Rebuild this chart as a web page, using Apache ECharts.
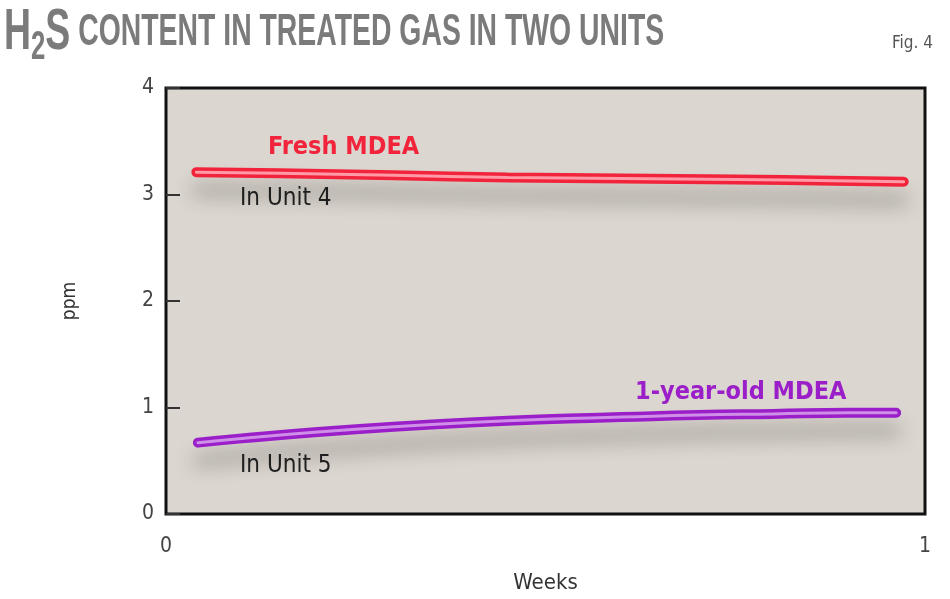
<!DOCTYPE html>
<html>
<head>
<meta charset="utf-8">
<script src="https://cdn.jsdelivr.net/npm/echarts@6/dist/echarts.min.js"></script>
<style>
  html, body { margin: 0; padding: 0; background: #fff; }
  #chart { width: 950px; height: 599px; }
</style>
</head>
<body>
<div id="chart"></div>
<script>
// data (x in weeks, y in ppm)
const freshWeeks = [0.04, 0.15, 0.3, 0.45, 0.6, 0.75, 0.88, 0.972];
const freshPpm = [3.21, 3.2, 3.18, 3.16, 3.15, 3.14, 3.13, 3.12];
const oldWeeks = [0.042, 0.1, 0.2, 0.3, 0.4, 0.5, 0.6, 0.7, 0.8, 0.9, 0.962];
const oldPpm = [0.67, 0.71, 0.77, 0.82, 0.86, 0.89, 0.91, 0.93, 0.94, 0.95, 0.95];

const zip = (xs, ys) => xs.map((x, i) => [x, ys[i]]);

const narrow = '"DejaVu Sans Condensed", "Liberation Sans Narrow", sans-serif';

// thick coloured tube with a lighter core and a soft shadow underneath
const tube = (data, color, core) => [
  {
    type: 'line', data, smooth: true, showSymbol: false, silent: true,
    lineStyle: {
      color, width: 10, cap: 'round',
      shadowColor: 'rgba(0,0,0,0.3)', shadowBlur: 20, shadowOffsetY: 18,
    },
  },
  {
    type: 'line', data, smooth: true, showSymbol: false, silent: true,
    lineStyle: { color: core, width: 3, cap: 'round' },
  },
];

const chart = echarts.init(document.getElementById('chart'), null, { renderer: 'canvas' });

chart.setOption({
  animation: false,
  grid: {
    left: 166, right: 25, top: 88, bottom: 80,
    show: true, backgroundColor: '#dbd6cf', borderColor: '#111', borderWidth: 3,
  },
  xAxis: {
    type: 'value', min: 0, max: 1, interval: 1,
    name: 'Weeks', nameLocation: 'middle', nameGap: 58,
    nameTextStyle: { fontFamily: narrow, fontSize: 22, color: '#333' },
    axisLine: { show: false }, axisTick: { show: false }, splitLine: { show: false },
    axisLabel: { margin: 22, fontFamily: narrow, fontSize: 21, color: '#444' },
  },
  yAxis: {
    type: 'value', min: 0, max: 4, interval: 1,
    name: 'ppm', nameLocation: 'middle', nameGap: 86, nameRotate: 90,
    nameTextStyle: { fontFamily: narrow, fontSize: 19, color: '#333' },
    axisLine: { show: false },
    axisTick: { show: true, inside: true, length: 14, lineStyle: { color: '#333', width: 2 } },
    splitLine: { show: false },
    axisLabel: { margin: 12, fontFamily: narrow, fontSize: 21, color: '#444' },
  },
  series: [
    ...tube(zip(freshWeeks, freshPpm), '#f2243c', '#ff9aa6'),
    ...tube(zip(oldWeeks, oldPpm), '#9a1fc9', '#cf8ee8'),
  ],
  graphic: [
    {
      type: 'text', left: 4, top: 4, scaleX: 0.645,
      style: {
        text: '{big|H}{sub|2}{big|S}{rest| CONTENT IN TREATED GAS IN TWO UNITS}',
        fill: '#7b7b7b', fontFamily: narrow,
        rich: {
          big: { fontSize: 58, fontWeight: 'bold', fill: '#7b7b7b' },
          sub: { fontSize: 40, fontWeight: 'bold', fill: '#7b7b7b', padding: [0, 0, -30, 0] },
          rest: { fontSize: 44, fontWeight: 'bold', fill: '#7b7b7b' },
        },
      },
    },
    { type: 'text', left: 892, top: 35, style: { text: 'Fig. 4', fontFamily: narrow, fontSize: 17, fill: '#555' } },
    { type: 'text', left: 268, top: 135, style: { text: 'Fresh MDEA', fontFamily: narrow, fontSize: 25, fontWeight: 'bold', fill: '#f2243c' } },
    { type: 'text', left: 240, top: 187, style: { text: 'In Unit 4', fontFamily: narrow, fontSize: 24, fill: '#222' } },
    { type: 'text', left: 635, top: 380, style: { text: '1-year-old MDEA', fontFamily: narrow, fontSize: 25, fontWeight: 'bold', fill: '#9a1fc9' } },
    { type: 'text', left: 240, top: 454, style: { text: 'In Unit 5', fontFamily: narrow, fontSize: 24, fill: '#222' } },
  ],
});
</script>
</body>
</html>
